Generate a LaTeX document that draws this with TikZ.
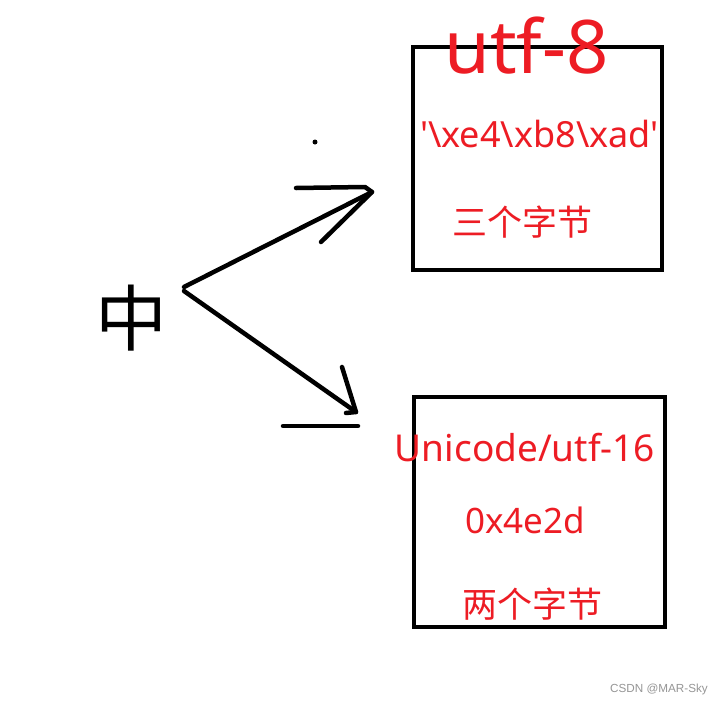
\documentclass[tikz,border=0pt]{standalone}
\usepackage{fontspec}
\setmainfont{Noto Sans}
\newfontfamily\cjk{Noto Sans CJK SC}
\newfontfamily\wmfont{Liberation Sans}
\definecolor{paintred}{RGB}{237,28,36}
\definecolor{wmgrey}{RGB}{150,150,150}
\begin{document}
\begin{tikzpicture}[x=1pt,y=-1pt,
  box/.style={draw=black,line width=4.5pt},
  stroke/.style={draw=black,line width=4.5pt,line cap=round,line join=round},
  redtext/.style={text=paintred,inner sep=0pt,anchor=base},
  cjktext/.style={redtext,font=\cjk\fontsize{35}{40}\selectfont}]
\useasboundingbox[fill=white] (0,0) rectangle (724,705);
% boxes
\draw[box] (413,47) rectangle (662,270);
\draw[box] (414,397) rectangle (665,627);
% texts
\node[redtext,font=\fontsize{74}{80}\selectfont] (utf8) at (526.5,73) {utf-8};
\node[redtext,font=\fontsize{36}{40}\selectfont] (bytes8) at (539.5,147) {\textquotesingle\textbackslash xe4\textbackslash xb8\textbackslash xad\textquotesingle};
\node[cjktext] (three) at (522.5,235) {三个字节};
\node[redtext,font=\fontsize{37}{40}\selectfont] (uni) at (525,461) {Unicode/utf-16};
\node[redtext,font=\fontsize{35}{40}\selectfont] (hex) at (525,533) {0x4e2d};
\node[cjktext] (two) at (532,617) {两个字节};
\node[inner sep=0pt,anchor=base,font=\cjk\fontsize{72}{80}\selectfont] (zhong) at (131,345) {中};
\node[inner sep=0pt,anchor=base east,text=wmgrey,font=\wmfont\fontsize{11.7}{14}\selectfont] (wm) at (708,692) {CSDN @MAR-Sky};
% arrow coordinates
\coordinate (s1) at (184,287);
\coordinate (t1) at (372,192);
\coordinate (b1a) at (296,188);
\coordinate (b1b) at (365,187);
\coordinate (b1c) at (321,242);
\coordinate (s2) at (184,291);
\coordinate (t2) at (356,412);
\coordinate (b2a) at (342,367);
\coordinate (t2b) at (346,413);
\coordinate (h2a) at (283,426);
\coordinate (h2b) at (358,426);
\coordinate (dot) at (315,142);
% strokes
\draw[stroke] (s1) -- (t1);
\draw[stroke] (b1a) -- (b1b) -- (t1) -- (b1c);
\draw[stroke] (s2) -- (t2);
\draw[stroke] (b2a) -- (t2) -- (t2b);
\draw[stroke] (h2a) -- (h2b);
\fill[black] (dot) circle (2.5);
\end{tikzpicture}
\end{document}
